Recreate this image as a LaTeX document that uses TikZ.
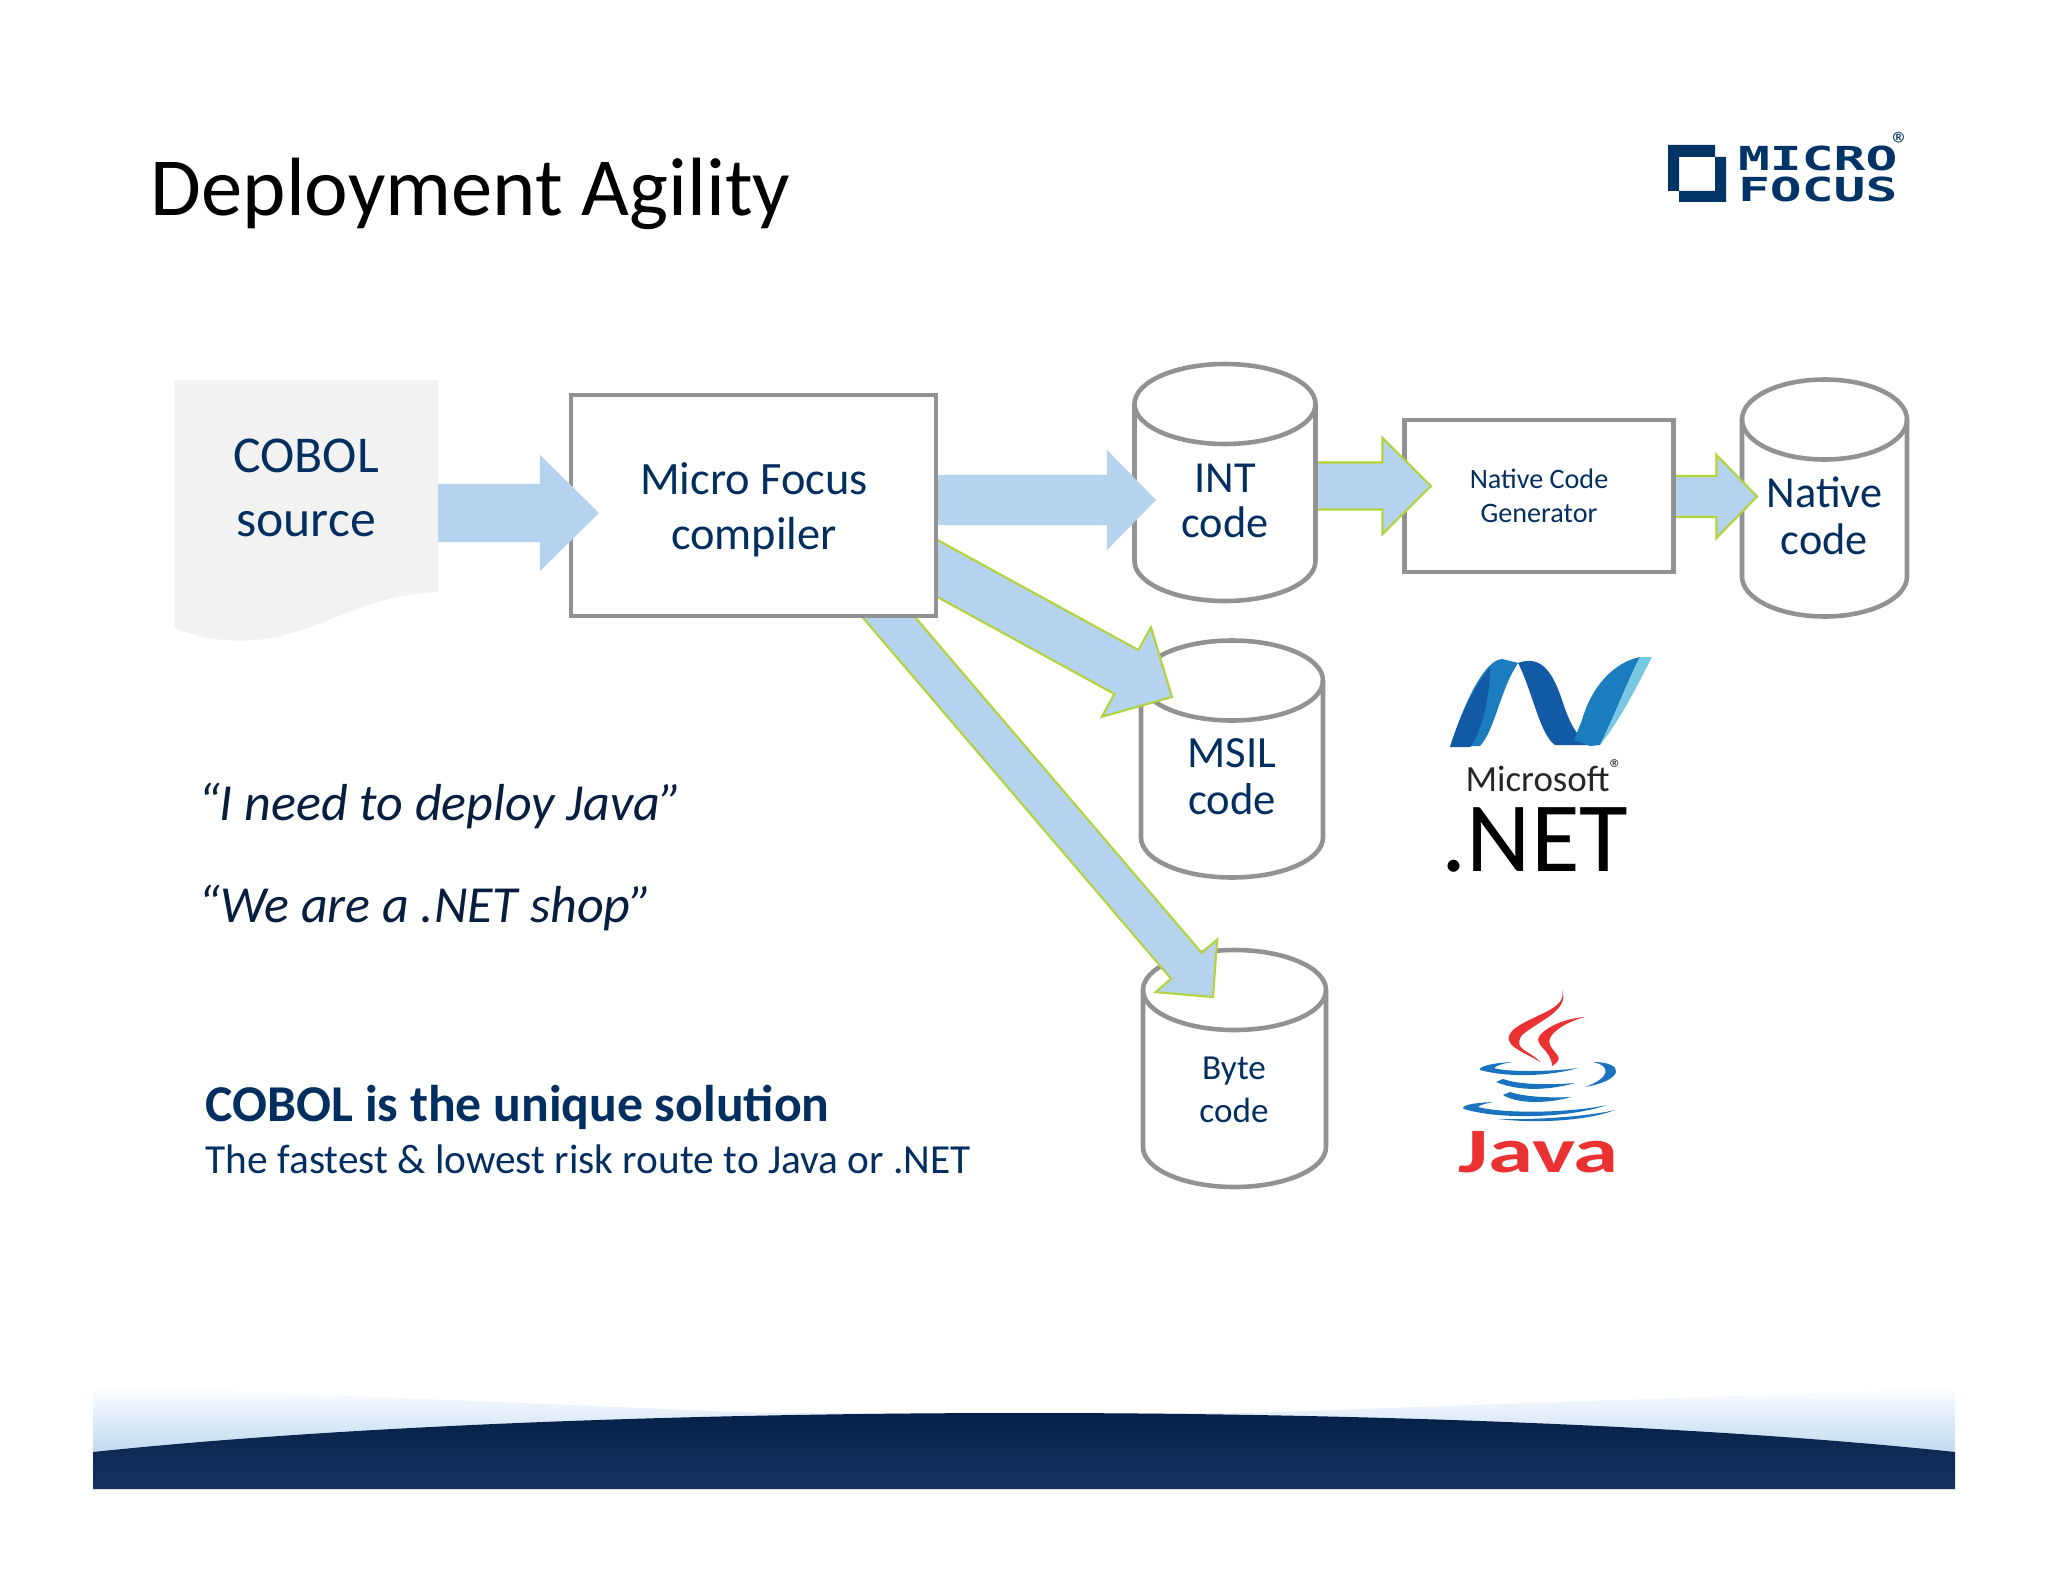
\documentclass[tikz,border=0pt]{standalone}
\usepackage{fontspec}
\setmainfont{Carlito}
\newfontfamily\logofont{DejaVu Sans Mono}
\usetikzlibrary{calc}
\definecolor{slidetext}{RGB}{3,47,96}
\definecolor{quotetext}{RGB}{8,30,62}
\definecolor{arrowblue}{RGB}{181,210,238}
\definecolor{arrowedge}{RGB}{178,211,60}
\definecolor{boxgrey}{RGB}{146,146,148}
\definecolor{docgrey}{RGB}{242,242,243}
\definecolor{bandtop}{RGB}{5,32,72}
\definecolor{bandlow}{RGB}{24,50,94}
\definecolor{skyblue}{RGB}{190,216,240}
\definecolor{logoblue}{RGB}{0,51,102}
\definecolor{javared}{RGB}{234,50,50}
\definecolor{javablue}{RGB}{25,115,190}
\definecolor{netdark}{RGB}{18,90,165}
\definecolor{netblue}{RGB}{28,125,190}
\definecolor{netpale}{RGB}{120,200,228}
\tikzset{
  procbox/.style={draw=boxgrey, line width=1.3pt, fill=white, text=slidetext, align=center, inner sep=0pt},
  barrelline/.style={draw=boxgrey, line width=1.3pt},
  boxtext/.style={text=slidetext, align=center, inner sep=0pt},
  fatarrow/.style={fill=arrowblue},
  edgearrow/.style={fill=arrowblue, draw=arrowedge, line width=0.6pt},
  slideline/.style={anchor=base west, inner sep=0pt},
}
\newcommand{\blockarrow}[6]{%
  \coordinate (hb) at ($(#3)!#6!(#2)$);
  \path[#1] ($(#2)!#4!90:(#3)$) -- ($(hb)!#4!-90:(#2)$) -- ($(hb)!#5!-90:(#2)$) -- (#3)
    -- ($(hb)!#5!90:(#2)$) -- ($(hb)!#4!90:(#2)$) -- ($(#2)!#4!-90:(#3)$) -- cycle;
}
\newcommand{\barrel}[4]{%
  \coordinate (#1) at (#2,#3);
  \path[barrelline, fill=white] (#2-#4,#3-78.5) arc[x radius=#4, y radius=40, start angle=180, end angle=360]
    -- (#2+#4,#3+78.5) arc[x radius=#4, y radius=40, start angle=0, end angle=180] -- cycle;
  \draw[barrelline] (#2-#4,#3-78.5) arc[x radius=#4, y radius=40, start angle=180, end angle=0];
}
\begin{document}
\begin{tikzpicture}[x=0.01cm, y=-0.01cm]
\useasboundingbox (0,0) rectangle (2048,1582);
\fill[white] (0,0) rectangle (2048,1582);

\node[slideline, font=\fontsize{23.5}{24}\selectfont] (title) at (150,215.5) {Deployment Agility};

% logo
\fill[logoblue, even odd rule] (1668,145) -- (1715,145) -- (1715,157) -- (1726,157) -- (1726,202) -- (1679,202) -- (1679,191) -- (1668,191) -- cycle
  (1679,157) rectangle (1715,191);
\node[slideline, xscale=1.6, text=logoblue, font=\logofont\fontsize{9.4}{10}\bfseries\selectfont] (micro) at (1737,171) {MICRO};
\node[slideline, xscale=1.6, text=logoblue, font=\logofont\fontsize{9.4}{10}\bfseries\selectfont] (focus) at (1737,202) {FOCUS};
\node[inner sep=0pt, text=logoblue, font=\fontsize{10}{10}\selectfont] (reg) at (1901,144) {®};

\coordinate (srctail) at (420,513);
\coordinate (comphead) at (599,513);
\coordinate (inttail) at (900,500);
\coordinate (inthead) at (1156,500);
\coordinate (gentail) at (1290,486);
\coordinate (genhead) at (1431,486);
\coordinate (nattail) at (1650,496.5);
\coordinate (nathead) at (1757,496.5);
\coordinate (msiltail) at (900,548);
\coordinate (msilhead) at (1172,697);
\coordinate (bytetail) at (840,560);
\coordinate (bytehead) at (1213,997);

\barrel{nativec}{1824.5}{498}{82.5}
\blockarrow{edgearrow}{nattail}{nathead}{0.205cm}{0.415cm}{0.405cm}
\node[procbox, minimum width=2.69cm, minimum height=1.52cm, font=\fontsize{8}{9.7}\selectfont] (generator) at (1539,496) {Native Code\\Generator};
\blockarrow{edgearrow}{gentail}{genhead}{0.235cm}{0.48cm}{0.485cm}
\barrel{intc}{1225}{482.5}{90.5}
\barrel{msilc}{1232}{759}{91}
\barrel{bytec}{1234.5}{1068.5}{91.5}

\blockarrow{edgearrow}{msiltail}{msilhead}{0.25cm}{0.51cm}{0.52cm}
\blockarrow{edgearrow}{bytetail}{bytehead}{0.20cm}{0.405cm}{0.41cm}
\blockarrow{fatarrow}{inttail}{inthead}{0.25cm}{0.50cm}{0.49cm}
\node[procbox, minimum width=3.65cm, minimum height=2.21cm] (compiler) at (753.5,505.5) {};
\blockarrow{fatarrow}{srctail}{comphead}{0.29cm}{0.58cm}{0.59cm}

\node[boxtext, font=\fontsize{13.2}{15.6}\selectfont] (compilertext) at (754,509.5) {Micro Focus\\compiler};
\node[boxtext, font=\fontsize{12.6}{13}\selectfont] (inttext) at (1225,501) {INT\\code};
\node[boxtext, font=\fontsize{12.6}{13.4}\selectfont] (nativetext) at (1824.5,516) {Native\\code};
\node[boxtext, font=\fontsize{12.7}{13.4}\selectfont] (msiltext) at (1232,777) {MSIL\\code};
\node[boxtext, font=\fontsize{10}{12.1}\selectfont] (bytetext) at (1234,1090) {Byte\\code};

% source document
\fill[docgrey] (174,380) -- (438,380) -- (438,592) .. controls (370,594) and (330,625) .. (280,636)
  .. controls (240,645) and (205,640) .. (174,628) -- cycle;
\node[boxtext, font=\fontsize{14.7}{18}\selectfont] (source) at (306,488) {COBOL\\source};

\node[slideline, text=quotetext, font=\fontsize{14.8}{15}\itshape\selectfont] (quotejava) at (197.5,820) {“I need to deploy Java”};
\node[slideline, text=quotetext, font=\fontsize{14.8}{15}\itshape\selectfont] (quotenet) at (197.5,922.5) {“We are a .NET shop”};
\node[slideline, text=slidetext, font=\fontsize{14.7}{15}\bfseries\selectfont] (unique) at (205,1121) {COBOL is the unique solution};
\node[slideline, text=slidetext, font=\fontsize{11.75}{12}\selectfont] (route) at (205,1173) {The fastest \& lowest risk route to Java or .NET};

% .NET logo
\fill[netblue] (1450,747) .. controls (1465,700) and (1485,660) .. (1502,659) -- (1518,663)
  .. controls (1500,690) and (1495,730) .. (1480,746) -- cycle;
\fill[netdark] (1450,747) .. controls (1462,710) and (1478,680) .. (1490,668) .. controls (1490,700) and (1480,735) .. (1470,747) -- cycle;
\fill[netdark] (1518,663) .. controls (1540,655) and (1552,670) .. (1562,700) .. controls (1570,725) and (1578,738) .. (1590,745)
  -- (1555,745) .. controls (1540,735) and (1532,690) .. (1518,663) -- cycle;
\fill[netblue] (1640,657) .. controls (1615,662) and (1592,685) .. (1582,720) -- (1574,740) -- (1590,746) -- (1600,745)
  .. controls (1615,715) and (1628,680) .. (1640,657) -- cycle;
\fill[netpale] (1640,657) -- (1652,657) .. controls (1635,690) and (1620,720) .. (1600,745) .. controls (1615,715) and (1628,680) .. (1640,657) -- cycle;
\node[inner sep=0pt, text=black!85, font=\fontsize{10.5}{11}\selectfont] (ms) at (1545,776) {Microsoft\textsuperscript{®}};
\node[inner sep=0pt, text=black, font=\fontsize{28.3}{29}\selectfont] (dotnet) at (1535,840) {.NET};

% Java logo
\fill[javared] (1562,990) .. controls (1570,1010) and (1540,1020) .. (1522,1035) .. controls (1512,1050) and (1530,1050) .. (1540,1062)
  .. controls (1525,1052) and (1498,1045) .. (1513,1030) .. controls (1530,1015) and (1568,1010) .. (1562,990) -- cycle;
\fill[javared] (1585,1017) .. controls (1565,1022) and (1545,1035) .. (1550,1045) .. controls (1556,1056) and (1565,1058) .. (1552,1066)
  .. controls (1552,1050) and (1532,1045) .. (1540,1035) .. controls (1550,1024) and (1570,1018) .. (1585,1017) -- cycle;
\fill[javablue] (1513,1062) .. controls (1490,1063) and (1478,1067) .. (1480,1070) .. controls (1510,1078) and (1550,1076) .. (1578,1068)
  .. controls (1550,1072) and (1505,1072) .. (1494,1068) .. controls (1497,1065) and (1505,1063) .. (1513,1062) -- cycle;
\fill[javablue] (1496,1082) .. controls (1520,1092) and (1550,1090) .. (1575,1083) .. controls (1550,1085) and (1520,1085) .. (1503,1079) -- cycle;
\fill[javablue] (1503,1095) .. controls (1520,1105) and (1550,1103) .. (1571,1097) .. controls (1550,1098) and (1525,1097) .. (1510,1092) -- cycle;
\fill[javablue] (1493,1102) .. controls (1470,1103) and (1460,1106) .. (1464,1109) .. controls (1500,1120) and (1570,1118) .. (1607,1105)
  .. controls (1570,1113) and (1505,1114) .. (1478,1107) .. controls (1480,1105) and (1487,1103) .. (1493,1102) -- cycle;
\fill[javablue] (1498,1119) .. controls (1540,1124) and (1590,1120) .. (1615,1110) .. controls (1590,1116) and (1540,1120) .. (1498,1119) -- cycle;
\fill[javablue] (1593,1062) .. controls (1625,1062) and (1625,1080) .. (1585,1087) .. controls (1610,1078) and (1612,1066) .. (1593,1062) -- cycle;
\node[anchor=base, xscale=1.44, inner sep=0pt, text=javared, font=\fontsize{18}{18}\bfseries\selectfont] (java) at (1538.5,1172) {Java};

% bottom band
\shade[top color=white, bottom color=skyblue] (93,1385) -- (760,1413) -- (1250,1413) -- (1955,1388) -- (1955,1455) -- (93,1455) -- cycle;
\shade[top color=bandtop, bottom color=bandlow] (93,1452) .. controls (350,1425) and (700,1413) .. (1024,1413)
  .. controls (1350,1413) and (1700,1425) .. (1955,1452) -- (1955,1489) -- (93,1489) -- cycle;
\end{tikzpicture}
\end{document}
